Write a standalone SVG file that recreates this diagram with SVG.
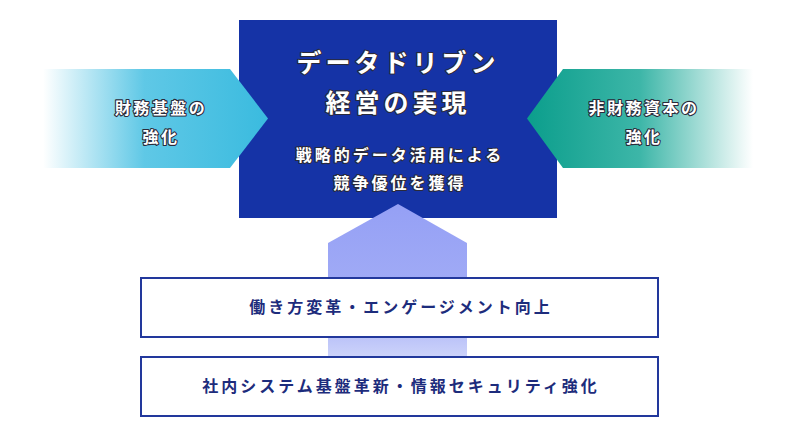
<svg xmlns="http://www.w3.org/2000/svg" width="796" height="437" viewBox="0 0 796 437">
<defs>
<linearGradient id="gl" x1="43" y1="0" x2="268" y2="0" gradientUnits="userSpaceOnUse">
<stop offset="0" stop-color="#FFFFFF"/>
<stop offset="0.45" stop-color="#5FC8E6"/>
<stop offset="1" stop-color="#3ABBDF"/>
</linearGradient>
<linearGradient id="gr" x1="753" y1="0" x2="527" y2="0" gradientUnits="userSpaceOnUse">
<stop offset="0" stop-color="#FFFFFF"/>
<stop offset="0.5" stop-color="#3DB6A8"/>
<stop offset="1" stop-color="#0B9E8C"/>
</linearGradient>
<linearGradient id="gu" x1="0" y1="204" x2="0" y2="357" gradientUnits="userSpaceOnUse">
<stop offset="0" stop-color="#95A0F5"/>
<stop offset="0.7" stop-color="#A4AEF6"/>
<stop offset="1" stop-color="#CDD3FA"/>
</linearGradient>
<style>
.w{font-family:"Noto Sans CJK JP","Noto Sans",sans-serif;font-weight:700;fill:#FFFFFF;stroke:#2A2A3A;stroke-width:2.2;paint-order:stroke;stroke-linejoin:round;text-anchor:middle}
.b{font-family:"Noto Sans CJK JP","Noto Sans",sans-serif;font-weight:700;fill:#1D2C7C;font-size:16px;letter-spacing:3px;text-anchor:middle}
.box{fill:#FFFFFF;stroke:#22389C;stroke-width:2}
</style>
</defs>
<g id="main">
<rect x="239" y="20" width="318" height="198" fill="#1533A6"/>
<text class="w" x="398" y="72" font-size="25" letter-spacing="4">データドリブン</text>
<text class="w" x="398" y="112" font-size="25" letter-spacing="4">経営の実現</text>
<text class="w" x="400" y="161" font-size="16" letter-spacing="3">戦略的データ活用による</text>
<text class="w" x="400" y="189" font-size="16" letter-spacing="3">競争優位を獲得</text>
</g>
<g id="arrow-left">
<polygon points="43,69 230,69 268,118.5 230,168 43,168" fill="url(#gl)"/>
<text class="w" x="161" y="114" font-size="16" letter-spacing="2.5">財務基盤の</text>
<text class="w" x="161" y="143" font-size="16" letter-spacing="2.5">強化</text>
</g>
<g id="arrow-right">
<polygon points="753,69 563,69 527,118.5 563,168 753,168" fill="url(#gr)"/>
<text class="w" x="644" y="114" font-size="16" letter-spacing="2.5">非財務資本の</text>
<text class="w" x="644" y="143" font-size="16" letter-spacing="2.5">強化</text>
</g>
<g id="connectors">
<polygon points="398,204 467,243 467,357 328,357 328,243" fill="url(#gu)"/>
</g>
<g id="box1">
<rect class="box" x="141" y="278" width="517" height="59"/>
<text class="b" x="401" y="313">働き方変革・エンゲージメント向上</text>
</g>
<g id="box2">
<rect class="box" x="141" y="357" width="517" height="59"/>
<text class="b" x="401" y="392">社内システム基盤革新・情報セキュリティ強化</text>
</g>
</svg>
